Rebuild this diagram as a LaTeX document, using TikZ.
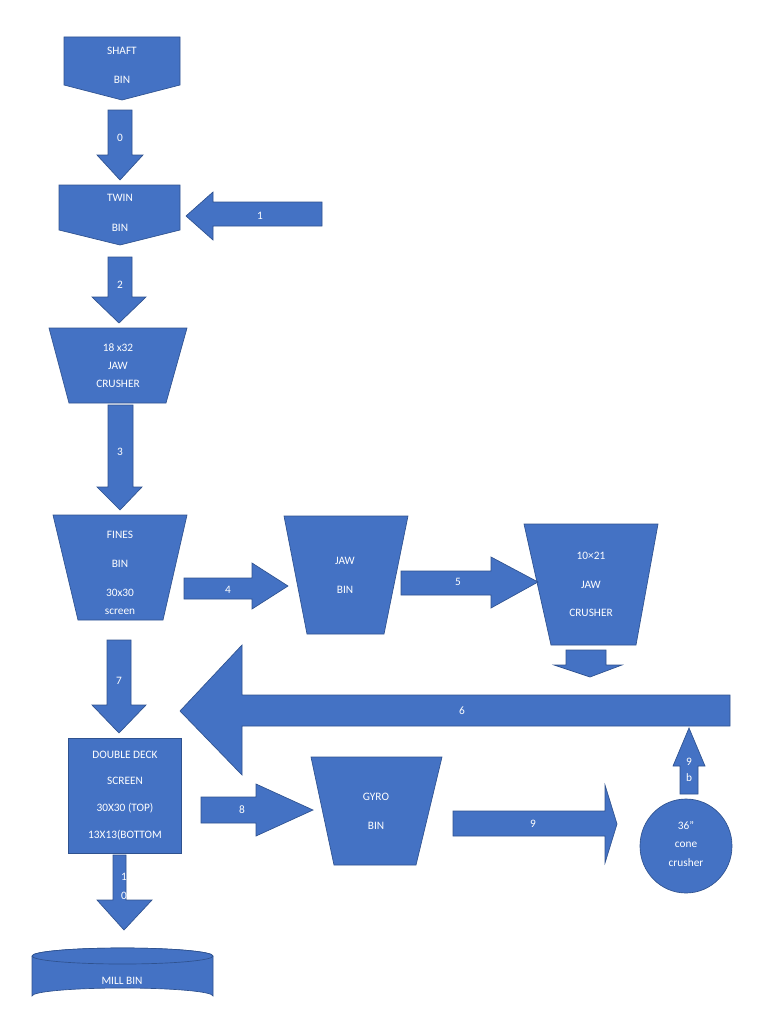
\documentclass[tikz,border=0pt]{standalone}
\usepackage{fontspec}
\setmainfont{Carlito}
\usepackage{tikz}
\definecolor{boxblue}{HTML}{4472C4}
\definecolor{edgeblue}{HTML}{2F528F}
\tikzset{
  blk/.style={fill=boxblue, draw=edgeblue, line width=0.5pt},
  lbl/.style={text=white, font=\fontsize{8.5}{10}\selectfont, inner sep=0pt}
}
\begin{document}
\begin{tikzpicture}[x=0.75pt,y=-0.75pt]
  \useasboundingbox (0,0) rectangle (768,1024);
  % bins and crushers
  \filldraw[blk] (64,37) -- (180,37) -- (180,85) -- (122,100) -- (64,85) -- cycle;
  \node[lbl] (shaft) at (122,51) {SHAFT};
  \node[lbl] (shaftbin) at (122,80) {BIN};
  \filldraw[blk] (59,185) -- (180,185) -- (180,230) -- (120,245) -- (59,230) -- cycle;
  \node[lbl] (twin) at (120,198) {TWIN};
  \node[lbl] (twinbin) at (120,228) {BIN};
  \filldraw[blk] (49,328) -- (187,328) -- (166,403) -- (69,403) -- cycle;
  \node[lbl] (jc1) at (118,348) {18 x32};
  \node[lbl] (jc2) at (118,366) {JAW};
  \node[lbl] (jc3) at (118,384) {CRUSHER};
  \filldraw[blk] (53,515) -- (187,515) -- (163,620) -- (78,620) -- cycle;
  \node[lbl] (fines) at (120,535) {FINES};
  \node[lbl] (finesbin) at (120,564) {BIN};
  \node[lbl] (finesa) at (120,593) {30x30};
  \node[lbl] (finesb) at (120,612) {screen};
  \filldraw[blk] (284,516) -- (408,516) -- (384,634) -- (307,634) -- cycle;
  \node[lbl] (jaw) at (345,561) {JAW};
  \node[lbl] (jawbin) at (345,590) {BIN};
  \filldraw[blk] (524,524) -- (658,524) -- (636,645) -- (551,645) -- cycle;
  \node[lbl] (sc1) at (591,556) {10×21};
  \node[lbl] (sc2) at (591,585) {JAW};
  \node[lbl] (sc3) at (591,613) {CRUSHER};
  \filldraw[blk] (68,738) rectangle (181,853);
  \node[lbl] (dd1) at (125,755) {DOUBLE DECK};
  \node[lbl] (dd2) at (125,781) {SCREEN};
  \node[lbl] (dd3) at (125,808) {30X30 (TOP)};
  \node[lbl] (dd4) at (125,835) {13X13(BOTTOM};
  \filldraw[blk] (311,757) -- (442,757) -- (416,865) -- (334,865) -- cycle;
  \node[lbl] (gyro) at (376,797) {GYRO};
  \node[lbl] (gyrobin) at (376,826) {BIN};
  \filldraw[blk] (686,846) ellipse [x radius=46, y radius=47];
  \node[lbl] (cone1) at (686,826) {36"};
  \node[lbl] (cone2) at (686,845) {cone};
  \node[lbl] (cone3) at (686,863) {crusher};
  \filldraw[blk] (32,956) -- (32,996) arc[start angle=180, end angle=360, x radius=90.5, y radius=8] -- (213,956) arc[start angle=0, end angle=-180, x radius=90.5, y radius=8];
  \draw[blk] (122.5,956) ellipse [x radius=90.5, y radius=8];
  \node[lbl] (mill) at (122,981) {MILL BIN};
  % block arrows
  \filldraw[blk] (108,110) -- (132,110) -- (132,155) -- (143,155) -- (120,180) -- (97,155) -- (108,155) -- cycle;
  \node[lbl] (a0) at (120,138) {0};
  \filldraw[blk] (322,202) -- (213,202) -- (213,192) -- (186,216) -- (213,240) -- (213,226) -- (322,226) -- cycle;
  \node[lbl] (a1) at (260,216) {1};
  \filldraw[blk] (108,257) -- (132,257) -- (132,297) -- (146,297) -- (119,323) -- (92,297) -- (108,297) -- cycle;
  \node[lbl] (a2) at (120,285) {2};
  \filldraw[blk] (108,405) -- (133,405) -- (133,487) -- (142,487) -- (120,510) -- (97,487) -- (108,487) -- cycle;
  \node[lbl] (a3) at (120,452) {3};
  \filldraw[blk] (184,578) -- (252,578) -- (252,563) -- (288,586) -- (252,609) -- (252,599) -- (184,599) -- cycle;
  \node[lbl] (a4) at (228,590) {4};
  \filldraw[blk] (401,571) -- (491,571) -- (491,557) -- (538,582) -- (491,608) -- (491,595) -- (401,595) -- cycle;
  \node[lbl] (a5) at (458,582) {5};
  \filldraw[blk] (566,650) -- (606,650) -- (606,665) -- (622,665) -- (590,677) -- (554,665) -- (566,665) -- cycle;
  \filldraw[blk] (730,695) -- (242,695) -- (242,645) -- (180,711) -- (242,775) -- (242,726) -- (730,726) -- cycle;
  \node[lbl] (a6) at (462,711) {6};
  \filldraw[blk] (107,640) -- (131,640) -- (131,705) -- (146,705) -- (119,733) -- (92,705) -- (107,705) -- cycle;
  \node[lbl] (a7) at (119,681) {7};
  \filldraw[blk] (201,797) -- (256,797) -- (256,784) -- (313,810) -- (256,836) -- (256,823) -- (201,823) -- cycle;
  \node[lbl] (a8) at (242,810) {8};
  \filldraw[blk] (453,811) -- (605,811) -- (605,785) -- (617,824) -- (605,863) -- (605,836) -- (453,836) -- cycle;
  \node[lbl] (a9) at (533,824) {9};
  \filldraw[blk] (680,794) -- (680,766) -- (673,766) -- (689,728) -- (705,766) -- (698,766) -- (698,794) -- cycle;
  \node[lbl] (a9b) at (689,762) {9};
  \node[lbl] (a9c) at (689,778) {b};
  \filldraw[blk] (113,855) -- (126,855) -- (126,900) -- (152,900) -- (124,930) -- (97,900) -- (113,900) -- cycle;
  \node[lbl] (a10) at (124,877) {1};
  \node[lbl] (a10b) at (124,896) {0};
\end{tikzpicture}
\end{document}
